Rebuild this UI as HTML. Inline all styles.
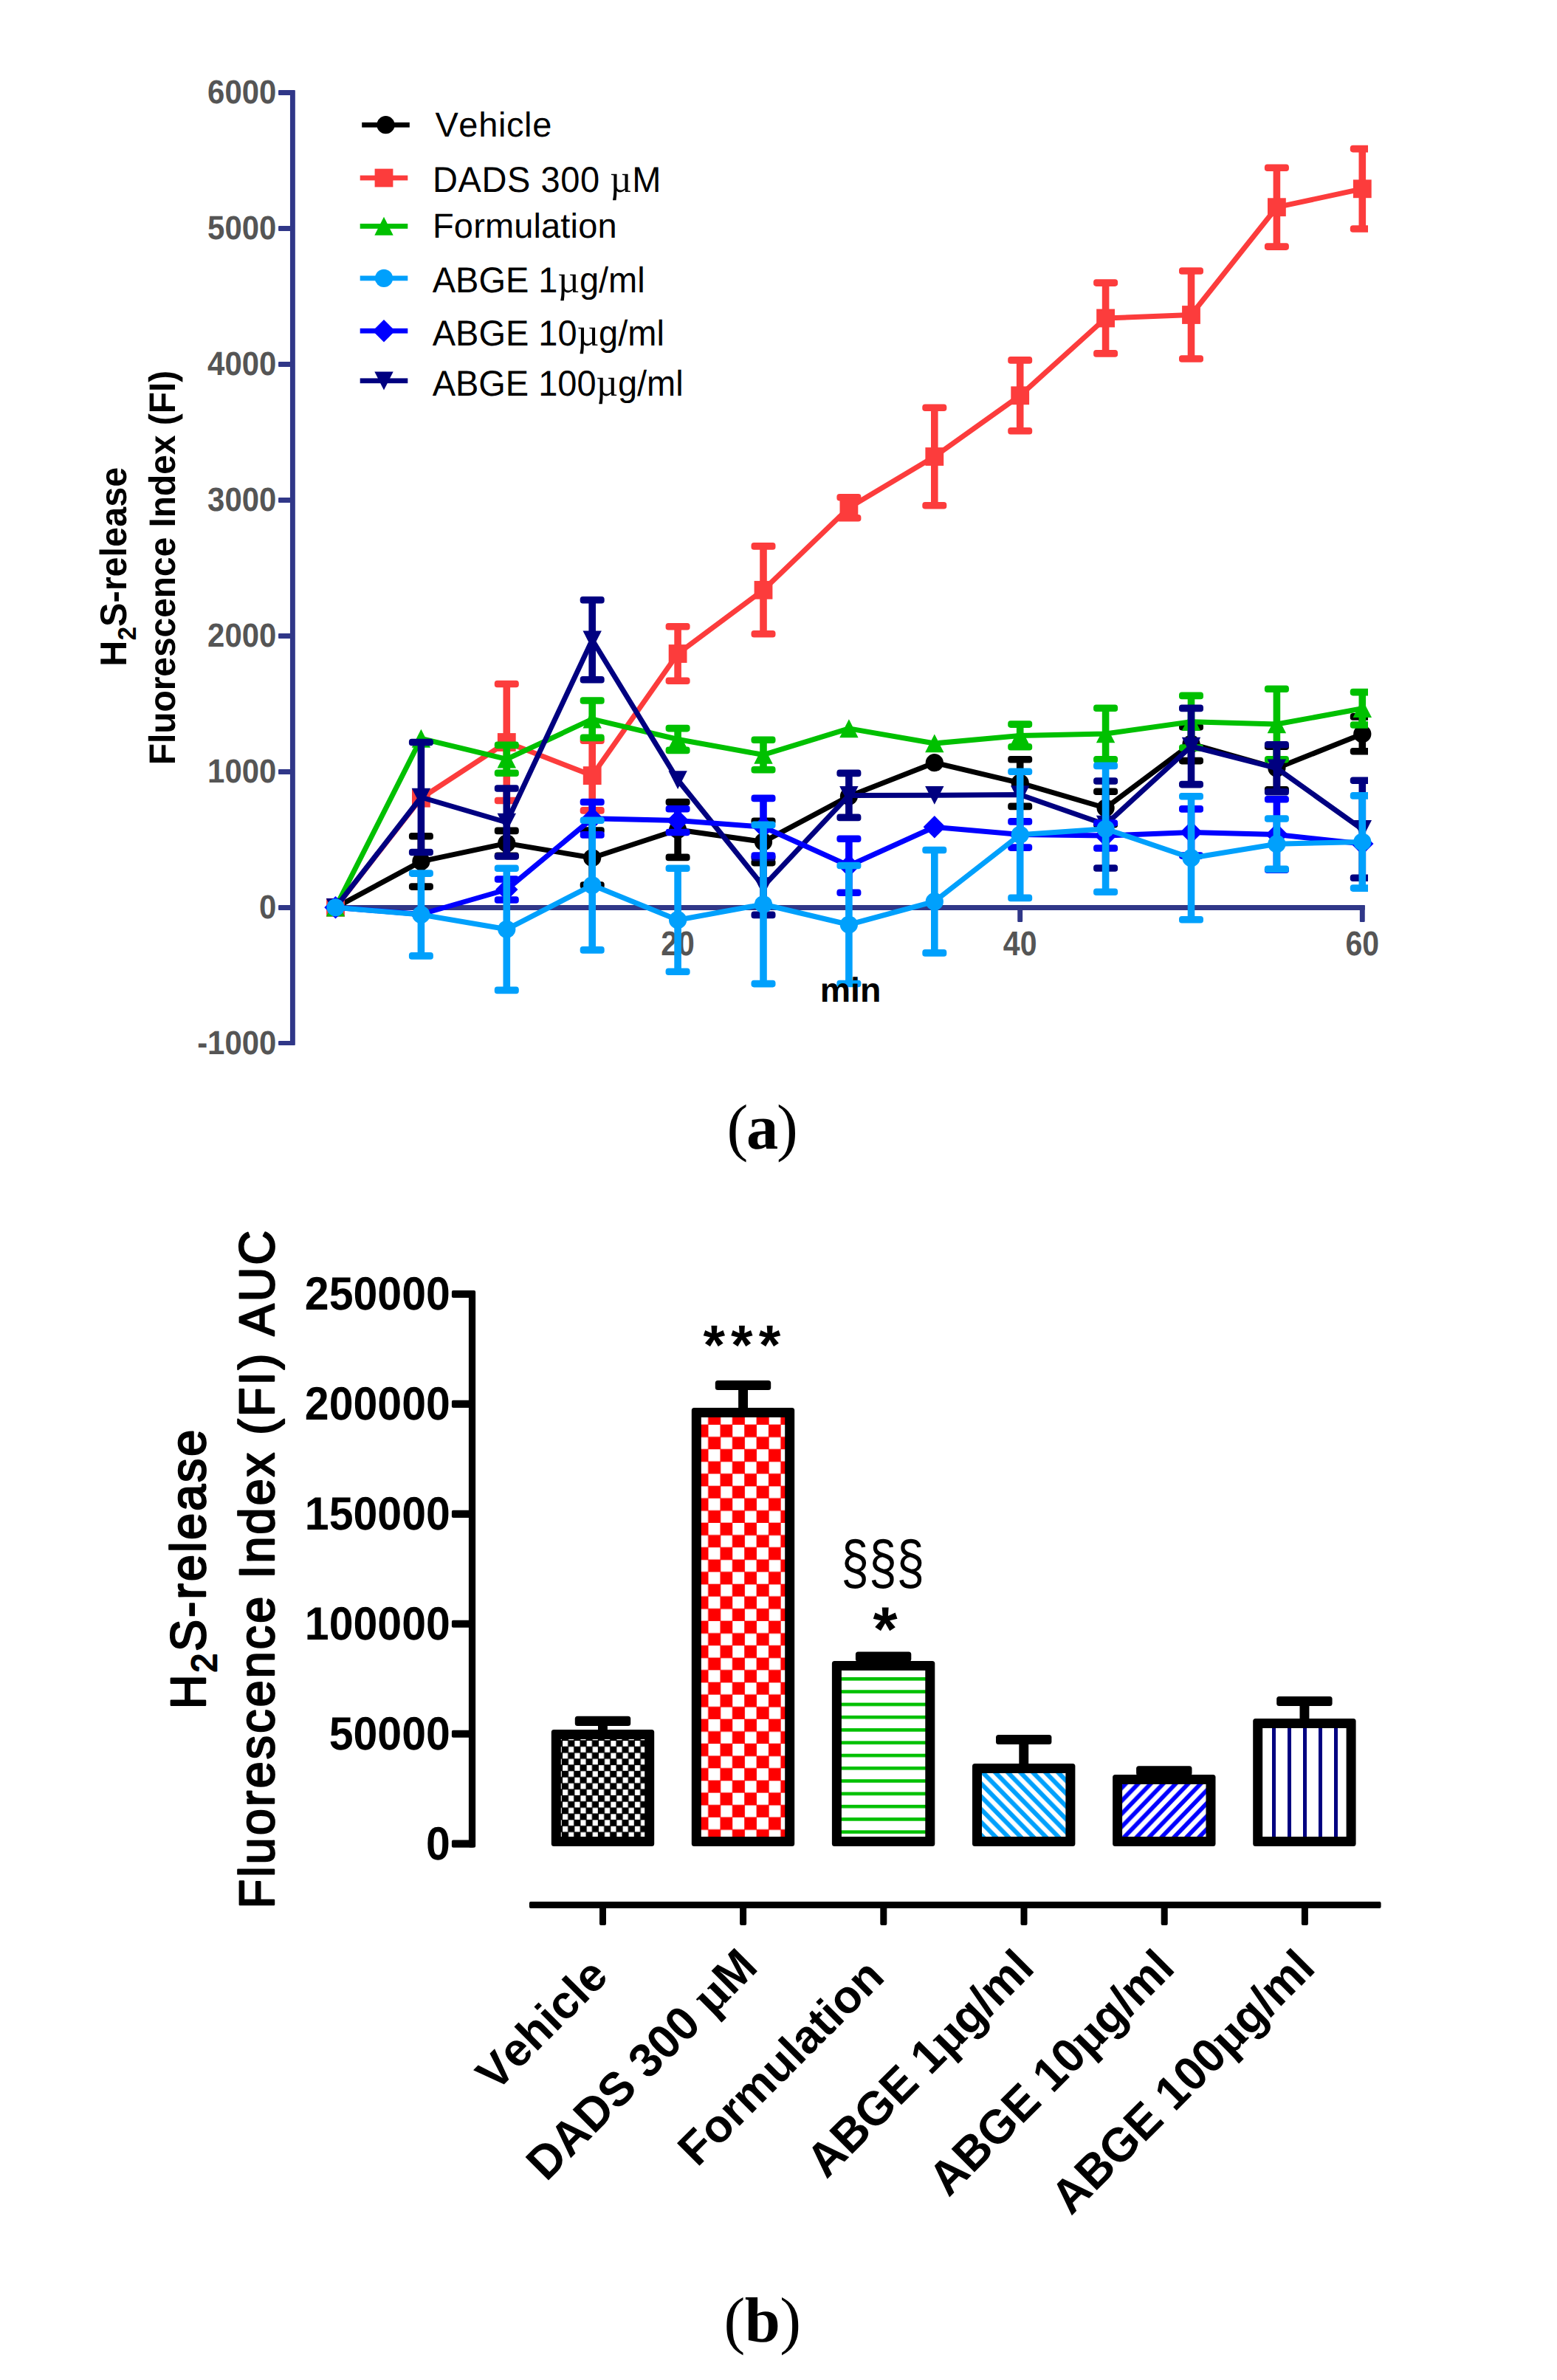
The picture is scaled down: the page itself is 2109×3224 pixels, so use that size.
<!DOCTYPE html>
<html lang="en"><head><meta charset="utf-8"><title>H2S release figure</title>
<style>html,body{margin:0;padding:0;background:#fff}svg{display:block}text{font-kerning:none;text-rendering:geometricPrecision}</style></head><body>
<svg width="2109" height="3224" viewBox="0 0 2109 3224">
<rect width="2109" height="3224" fill="#fff"/>
<g id="top-chart">
<defs><clipPath id="clipTop"><rect x="380" y="100" width="1473" height="1400"/></clipPath></defs>
<rect x="392.95" y="122.05" width="6.9" height="1293.90" rx="1" fill="#303788"/>
<rect x="377.06" y="122.05" width="20" height="6.9" rx="1" fill="#303788"/>
<rect x="377.06" y="306.05" width="20" height="6.9" rx="1" fill="#303788"/>
<rect x="377.06" y="490.05" width="20" height="6.9" rx="1" fill="#303788"/>
<rect x="377.06" y="674.05" width="20" height="6.9" rx="1" fill="#303788"/>
<rect x="377.06" y="858.05" width="20" height="6.9" rx="1" fill="#303788"/>
<rect x="377.06" y="1042.05" width="20" height="6.9" rx="1" fill="#303788"/>
<rect x="377.06" y="1226.05" width="20" height="6.9" rx="1" fill="#303788"/>
<rect x="377.06" y="1410.05" width="20" height="5.9" rx="1" fill="#303788"/>
<text transform="translate(374.3,139.6) scale(0.925,1)" font-family='"Liberation Sans", sans-serif' font-weight="700" font-size="45.3" fill="#555555" text-anchor="end">6000</text>
<text transform="translate(374.3,323.6) scale(0.925,1)" font-family='"Liberation Sans", sans-serif' font-weight="700" font-size="45.3" fill="#555555" text-anchor="end">5000</text>
<text transform="translate(374.3,507.6) scale(0.925,1)" font-family='"Liberation Sans", sans-serif' font-weight="700" font-size="45.3" fill="#555555" text-anchor="end">4000</text>
<text transform="translate(374.3,691.6) scale(0.925,1)" font-family='"Liberation Sans", sans-serif' font-weight="700" font-size="45.3" fill="#555555" text-anchor="end">3000</text>
<text transform="translate(374.3,875.6) scale(0.925,1)" font-family='"Liberation Sans", sans-serif' font-weight="700" font-size="45.3" fill="#555555" text-anchor="end">2000</text>
<text transform="translate(374.3,1059.6) scale(0.925,1)" font-family='"Liberation Sans", sans-serif' font-weight="700" font-size="45.3" fill="#555555" text-anchor="end">1000</text>
<text transform="translate(374.3,1243.6) scale(0.925,1)" font-family='"Liberation Sans", sans-serif' font-weight="700" font-size="45.3" fill="#555555" text-anchor="end">0</text>
<text transform="translate(374.3,1427.6) scale(0.925,1)" font-family='"Liberation Sans", sans-serif' font-weight="700" font-size="45.3" fill="#555555" text-anchor="end">-1000</text>
<rect x="451.50" y="1226.00" width="1397.30" height="7" rx="1" fill="#303788"/>
<rect x="914.65" y="1226.00" width="6.9" height="22.90" rx="1.2" fill="#303788"/>
<rect x="1378.25" y="1226.00" width="6.9" height="22.90" rx="1.2" fill="#303788"/>
<rect x="1841.85" y="1226.00" width="6.9" height="22.90" rx="1.2" fill="#303788"/>
<text transform="translate(918.1,1293.8) scale(0.885,1)" font-family='"Liberation Sans", sans-serif' font-weight="700" font-size="46.4" fill="#555555" text-anchor="middle">20</text>
<text transform="translate(1381.7,1293.8) scale(0.885,1)" font-family='"Liberation Sans", sans-serif' font-weight="700" font-size="46.4" fill="#555555" text-anchor="middle">40</text>
<text transform="translate(1845.3,1293.8) scale(0.885,1)" font-family='"Liberation Sans", sans-serif' font-weight="700" font-size="46.4" fill="#555555" text-anchor="middle">60</text>
<g id="s-black">
<path d="M454.5,1229.3 L570.4,1166.9 L686.3,1142.4 L802.2,1162.0 L918.1,1124.0 L1034.0,1140.4 L1149.9,1078.7 L1265.8,1033.2 L1381.7,1060.6 L1497.6,1094.5 L1613.5,1007.7 L1729.4,1040.5 L1845.3,994.3" fill="none" stroke="#000000" stroke-width="7.0" stroke-linejoin="round"/>
<g clip-path="url(#clipTop)">
<rect x="565.6" y="1132.7" width="9.6" height="68.4" fill="#000000"/>
<rect x="553.9" y="1127.9" width="33.0" height="9.6" rx="3.8" fill="#000000"/>
<rect x="553.9" y="1196.3" width="33.0" height="9.6" rx="3.8" fill="#000000"/>
<rect x="681.5" y="1125.4" width="9.6" height="34.0" fill="#000000"/>
<rect x="669.8" y="1120.6" width="33.0" height="9.6" rx="3.8" fill="#000000"/>
<rect x="669.8" y="1154.6" width="33.0" height="9.6" rx="3.8" fill="#000000"/>
<rect x="797.4" y="1125.0" width="9.6" height="74.0" fill="#000000"/>
<rect x="785.7" y="1120.2" width="33.0" height="9.6" rx="3.8" fill="#000000"/>
<rect x="785.7" y="1194.2" width="33.0" height="9.6" rx="3.8" fill="#000000"/>
<rect x="913.3" y="1086.6" width="9.6" height="74.8" fill="#000000"/>
<rect x="901.6" y="1081.8" width="33.0" height="9.6" rx="3.8" fill="#000000"/>
<rect x="901.6" y="1156.6" width="33.0" height="9.6" rx="3.8" fill="#000000"/>
<rect x="1029.2" y="1112.2" width="9.6" height="56.4" fill="#000000"/>
<rect x="1017.5" y="1107.4" width="33.0" height="9.6" rx="3.8" fill="#000000"/>
<rect x="1017.5" y="1163.8" width="33.0" height="9.6" rx="3.8" fill="#000000"/>
<rect x="1376.9" y="1028.8" width="9.6" height="63.6" fill="#000000"/>
<rect x="1365.2" y="1024.0" width="33.0" height="9.6" rx="3.8" fill="#000000"/>
<rect x="1365.2" y="1087.6" width="33.0" height="9.6" rx="3.8" fill="#000000"/>
<rect x="1492.8" y="1072.2" width="9.6" height="44.6" fill="#000000"/>
<rect x="1481.1" y="1067.4" width="33.0" height="9.6" rx="3.8" fill="#000000"/>
<rect x="1481.1" y="1112.0" width="33.0" height="9.6" rx="3.8" fill="#000000"/>
<rect x="1608.7" y="984.8" width="9.6" height="45.8" fill="#000000"/>
<rect x="1597.0" y="980.0" width="33.0" height="9.6" rx="3.8" fill="#000000"/>
<rect x="1597.0" y="1025.8" width="33.0" height="9.6" rx="3.8" fill="#000000"/>
<rect x="1724.6" y="1011.2" width="9.6" height="58.6" fill="#000000"/>
<rect x="1712.9" y="1006.4" width="33.0" height="9.6" rx="3.8" fill="#000000"/>
<rect x="1712.9" y="1065.0" width="33.0" height="9.6" rx="3.8" fill="#000000"/>
<rect x="1840.5" y="970.9" width="9.6" height="46.8" fill="#000000"/>
<rect x="1828.8" y="966.1" width="33.0" height="9.6" rx="3.8" fill="#000000"/>
<rect x="1828.8" y="1012.9" width="33.0" height="9.6" rx="3.8" fill="#000000"/>
</g>
<circle cx="454.5" cy="1229.3" r="12.1" fill="#000000"/>
<circle cx="570.4" cy="1166.9" r="12.1" fill="#000000"/>
<circle cx="686.3" cy="1142.4" r="12.1" fill="#000000"/>
<circle cx="802.2" cy="1162.0" r="12.1" fill="#000000"/>
<circle cx="918.1" cy="1124.0" r="12.1" fill="#000000"/>
<circle cx="1034.0" cy="1140.4" r="12.1" fill="#000000"/>
<circle cx="1149.9" cy="1078.7" r="12.1" fill="#000000"/>
<circle cx="1265.8" cy="1033.2" r="12.1" fill="#000000"/>
<circle cx="1381.7" cy="1060.6" r="12.1" fill="#000000"/>
<circle cx="1497.6" cy="1094.5" r="12.1" fill="#000000"/>
<circle cx="1613.5" cy="1007.7" r="12.1" fill="#000000"/>
<circle cx="1729.4" cy="1040.5" r="12.1" fill="#000000"/>
<circle cx="1845.3" cy="994.3" r="12.1" fill="#000000"/>
</g>
<g id="s-red">
<path d="M454.5,1229.3 L570.4,1081.2 L686.3,1005.5 L802.2,1050.6 L918.1,885.5 L1034.0,799.3 L1149.9,687.8 L1265.8,618.5 L1381.7,535.8 L1497.6,431.0 L1613.5,426.5 L1729.4,280.7 L1845.3,255.8" fill="none" stroke="#fc3c3c" stroke-width="7.0" stroke-linejoin="round"/>
<g clip-path="url(#clipTop)">
<rect x="681.5" y="926.5" width="9.6" height="158.0" fill="#fc3c3c"/>
<rect x="669.8" y="921.7" width="33.0" height="9.6" rx="3.8" fill="#fc3c3c"/>
<rect x="669.8" y="1079.7" width="33.0" height="9.6" rx="3.8" fill="#fc3c3c"/>
<rect x="797.4" y="1003.3" width="9.6" height="94.6" fill="#fc3c3c"/>
<rect x="785.7" y="998.5" width="33.0" height="9.6" rx="3.8" fill="#fc3c3c"/>
<rect x="785.7" y="1093.1" width="33.0" height="9.6" rx="3.8" fill="#fc3c3c"/>
<rect x="913.3" y="848.7" width="9.6" height="73.6" fill="#fc3c3c"/>
<rect x="901.6" y="843.9" width="33.0" height="9.6" rx="3.8" fill="#fc3c3c"/>
<rect x="901.6" y="917.5" width="33.0" height="9.6" rx="3.8" fill="#fc3c3c"/>
<rect x="1029.2" y="739.9" width="9.6" height="118.8" fill="#fc3c3c"/>
<rect x="1017.5" y="735.1" width="33.0" height="9.6" rx="3.8" fill="#fc3c3c"/>
<rect x="1017.5" y="853.9" width="33.0" height="9.6" rx="3.8" fill="#fc3c3c"/>
<rect x="1145.1" y="673.8" width="9.6" height="28.0" fill="#fc3c3c"/>
<rect x="1133.4" y="669.0" width="33.0" height="9.6" rx="3.8" fill="#fc3c3c"/>
<rect x="1133.4" y="697.0" width="33.0" height="9.6" rx="3.8" fill="#fc3c3c"/>
<rect x="1261.0" y="552.2" width="9.6" height="132.6" fill="#fc3c3c"/>
<rect x="1249.3" y="547.4" width="33.0" height="9.6" rx="3.8" fill="#fc3c3c"/>
<rect x="1249.3" y="680.0" width="33.0" height="9.6" rx="3.8" fill="#fc3c3c"/>
<rect x="1376.9" y="487.9" width="9.6" height="95.8" fill="#fc3c3c"/>
<rect x="1365.2" y="483.1" width="33.0" height="9.6" rx="3.8" fill="#fc3c3c"/>
<rect x="1365.2" y="578.9" width="33.0" height="9.6" rx="3.8" fill="#fc3c3c"/>
<rect x="1492.8" y="383.1" width="9.6" height="95.8" fill="#fc3c3c"/>
<rect x="1481.1" y="378.3" width="33.0" height="9.6" rx="3.8" fill="#fc3c3c"/>
<rect x="1481.1" y="474.1" width="33.0" height="9.6" rx="3.8" fill="#fc3c3c"/>
<rect x="1608.7" y="367.0" width="9.6" height="119.0" fill="#fc3c3c"/>
<rect x="1597.0" y="362.2" width="33.0" height="9.6" rx="3.8" fill="#fc3c3c"/>
<rect x="1597.0" y="481.2" width="33.0" height="9.6" rx="3.8" fill="#fc3c3c"/>
<rect x="1724.6" y="227.3" width="9.6" height="106.8" fill="#fc3c3c"/>
<rect x="1712.9" y="222.5" width="33.0" height="9.6" rx="3.8" fill="#fc3c3c"/>
<rect x="1712.9" y="329.3" width="33.0" height="9.6" rx="3.8" fill="#fc3c3c"/>
<rect x="1840.5" y="201.6" width="9.6" height="108.4" fill="#fc3c3c"/>
<rect x="1828.8" y="196.8" width="33.0" height="9.6" rx="3.8" fill="#fc3c3c"/>
<rect x="1828.8" y="305.2" width="33.0" height="9.6" rx="3.8" fill="#fc3c3c"/>
</g>
<rect x="442.1" y="1216.9" width="24.8" height="24.8" fill="#fc3c3c"/>
<rect x="558.0" y="1068.8" width="24.8" height="24.8" fill="#fc3c3c"/>
<rect x="673.9" y="993.1" width="24.8" height="24.8" fill="#fc3c3c"/>
<rect x="789.8" y="1038.2" width="24.8" height="24.8" fill="#fc3c3c"/>
<rect x="905.7" y="873.1" width="24.8" height="24.8" fill="#fc3c3c"/>
<rect x="1021.6" y="786.9" width="24.8" height="24.8" fill="#fc3c3c"/>
<rect x="1137.5" y="675.4" width="24.8" height="24.8" fill="#fc3c3c"/>
<rect x="1253.4" y="606.1" width="24.8" height="24.8" fill="#fc3c3c"/>
<rect x="1369.3" y="523.4" width="24.8" height="24.8" fill="#fc3c3c"/>
<rect x="1485.2" y="418.6" width="24.8" height="24.8" fill="#fc3c3c"/>
<rect x="1601.1" y="414.1" width="24.8" height="24.8" fill="#fc3c3c"/>
<rect x="1717.0" y="268.3" width="24.8" height="24.8" fill="#fc3c3c"/>
<rect x="1832.9" y="243.4" width="24.8" height="24.8" fill="#fc3c3c"/>
</g>
<g id="s-green">
<path d="M454.5,1229.3 L570.4,1000.4 L686.3,1028.3 L802.2,974.2 L918.1,1001.5 L1034.0,1022.5 L1149.9,986.9 L1265.8,1007.0 L1381.7,996.4 L1497.6,994.0 L1613.5,977.7 L1729.4,981.0 L1845.3,959.8" fill="none" stroke="#00c000" stroke-width="7.0" stroke-linejoin="round"/>
<g clip-path="url(#clipTop)">
<rect x="681.5" y="1009.4" width="9.6" height="37.8" fill="#00c000"/>
<rect x="669.8" y="1004.6" width="33.0" height="9.6" rx="3.8" fill="#00c000"/>
<rect x="669.8" y="1042.4" width="33.0" height="9.6" rx="3.8" fill="#00c000"/>
<rect x="797.4" y="949.0" width="9.6" height="50.4" fill="#00c000"/>
<rect x="785.7" y="944.2" width="33.0" height="9.6" rx="3.8" fill="#00c000"/>
<rect x="785.7" y="994.6" width="33.0" height="9.6" rx="3.8" fill="#00c000"/>
<rect x="913.3" y="986.6" width="9.6" height="29.8" fill="#00c000"/>
<rect x="901.6" y="981.8" width="33.0" height="9.6" rx="3.8" fill="#00c000"/>
<rect x="901.6" y="1011.6" width="33.0" height="9.6" rx="3.8" fill="#00c000"/>
<rect x="1029.2" y="1002.3" width="9.6" height="40.4" fill="#00c000"/>
<rect x="1017.5" y="997.5" width="33.0" height="9.6" rx="3.8" fill="#00c000"/>
<rect x="1017.5" y="1037.9" width="33.0" height="9.6" rx="3.8" fill="#00c000"/>
<rect x="1376.9" y="981.1" width="9.6" height="30.6" fill="#00c000"/>
<rect x="1365.2" y="976.3" width="33.0" height="9.6" rx="3.8" fill="#00c000"/>
<rect x="1365.2" y="1006.9" width="33.0" height="9.6" rx="3.8" fill="#00c000"/>
<rect x="1492.8" y="959.3" width="9.6" height="69.4" fill="#00c000"/>
<rect x="1481.1" y="954.5" width="33.0" height="9.6" rx="3.8" fill="#00c000"/>
<rect x="1481.1" y="1023.9" width="33.0" height="9.6" rx="3.8" fill="#00c000"/>
<rect x="1608.7" y="942.4" width="9.6" height="70.6" fill="#00c000"/>
<rect x="1597.0" y="937.6" width="33.0" height="9.6" rx="3.8" fill="#00c000"/>
<rect x="1597.0" y="1008.2" width="33.0" height="9.6" rx="3.8" fill="#00c000"/>
<rect x="1724.6" y="933.3" width="9.6" height="95.4" fill="#00c000"/>
<rect x="1712.9" y="928.5" width="33.0" height="9.6" rx="3.8" fill="#00c000"/>
<rect x="1712.9" y="1023.9" width="33.0" height="9.6" rx="3.8" fill="#00c000"/>
<rect x="1840.5" y="937.6" width="9.6" height="44.4" fill="#00c000"/>
<rect x="1828.8" y="932.8" width="33.0" height="9.6" rx="3.8" fill="#00c000"/>
<rect x="1828.8" y="977.2" width="33.0" height="9.6" rx="3.8" fill="#00c000"/>
</g>
<path d="M454.5,1216.7 L467.2,1241.6 L441.8,1241.6 Z" fill="#00c000"/>
<path d="M570.4,987.8 L583.1,1012.7 L557.7,1012.7 Z" fill="#00c000"/>
<path d="M686.3,1015.7 L699.0,1040.6 L673.6,1040.6 Z" fill="#00c000"/>
<path d="M802.2,961.6 L814.9,986.5 L789.5,986.5 Z" fill="#00c000"/>
<path d="M918.1,988.9 L930.8,1013.8 L905.4,1013.8 Z" fill="#00c000"/>
<path d="M1034.0,1009.9 L1046.7,1034.8 L1021.3,1034.8 Z" fill="#00c000"/>
<path d="M1149.9,974.3 L1162.6,999.2 L1137.2,999.2 Z" fill="#00c000"/>
<path d="M1265.8,994.4 L1278.5,1019.3 L1253.1,1019.3 Z" fill="#00c000"/>
<path d="M1381.7,983.8 L1394.4,1008.7 L1369.0,1008.7 Z" fill="#00c000"/>
<path d="M1497.6,981.4 L1510.3,1006.3 L1484.9,1006.3 Z" fill="#00c000"/>
<path d="M1613.5,965.1 L1626.2,990.0 L1600.8,990.0 Z" fill="#00c000"/>
<path d="M1729.4,968.4 L1742.1,993.3 L1716.7,993.3 Z" fill="#00c000"/>
<path d="M1845.3,947.2 L1858.0,972.1 L1832.6,972.1 Z" fill="#00c000"/>
</g>
<g id="s-navy">
<path d="M454.5,1229.3 L570.4,1080.0 L686.3,1114.0 L802.2,866.8 L918.1,1056.5 L1034.0,1200.6 L1149.9,1077.4 L1265.8,1077.2 L1381.7,1076.5 L1497.6,1117.0 L1613.5,1011.0 L1729.4,1040.7 L1845.3,1123.3" fill="none" stroke="#000080" stroke-width="7.0" stroke-linejoin="round"/>
<g clip-path="url(#clipTop)">
<rect x="565.6" y="1005.5" width="9.6" height="149.0" fill="#000080"/>
<rect x="553.9" y="1000.7" width="33.0" height="9.6" rx="3.8" fill="#000080"/>
<rect x="553.9" y="1149.7" width="33.0" height="9.6" rx="3.8" fill="#000080"/>
<rect x="681.5" y="1068.0" width="9.6" height="92.0" fill="#000080"/>
<rect x="669.8" y="1063.2" width="33.0" height="9.6" rx="3.8" fill="#000080"/>
<rect x="669.8" y="1155.2" width="33.0" height="9.6" rx="3.8" fill="#000080"/>
<rect x="797.4" y="812.8" width="9.6" height="108.0" fill="#000080"/>
<rect x="785.7" y="808.0" width="33.0" height="9.6" rx="3.8" fill="#000080"/>
<rect x="785.7" y="916.0" width="33.0" height="9.6" rx="3.8" fill="#000080"/>
<rect x="1029.2" y="1161.8" width="9.6" height="77.6" fill="#000080"/>
<rect x="1017.5" y="1157.0" width="33.0" height="9.6" rx="3.8" fill="#000080"/>
<rect x="1017.5" y="1234.6" width="33.0" height="9.6" rx="3.8" fill="#000080"/>
<rect x="1145.1" y="1047.4" width="9.6" height="60.0" fill="#000080"/>
<rect x="1133.4" y="1042.6" width="33.0" height="9.6" rx="3.8" fill="#000080"/>
<rect x="1133.4" y="1102.6" width="33.0" height="9.6" rx="3.8" fill="#000080"/>
<rect x="1492.8" y="1058.0" width="9.6" height="118.0" fill="#000080"/>
<rect x="1481.1" y="1053.2" width="33.0" height="9.6" rx="3.8" fill="#000080"/>
<rect x="1481.1" y="1171.2" width="33.0" height="9.6" rx="3.8" fill="#000080"/>
<rect x="1608.7" y="959.4" width="9.6" height="103.2" fill="#000080"/>
<rect x="1597.0" y="954.6" width="33.0" height="9.6" rx="3.8" fill="#000080"/>
<rect x="1597.0" y="1057.8" width="33.0" height="9.6" rx="3.8" fill="#000080"/>
<rect x="1724.6" y="1008.7" width="9.6" height="64.0" fill="#000080"/>
<rect x="1712.9" y="1003.9" width="33.0" height="9.6" rx="3.8" fill="#000080"/>
<rect x="1712.9" y="1067.9" width="33.0" height="9.6" rx="3.8" fill="#000080"/>
<rect x="1840.5" y="1057.3" width="9.6" height="132.0" fill="#000080"/>
<rect x="1828.8" y="1052.5" width="33.0" height="9.6" rx="3.8" fill="#000080"/>
<rect x="1828.8" y="1184.5" width="33.0" height="9.6" rx="3.8" fill="#000080"/>
</g>
<path d="M454.5,1241.9 L467.2,1217.0 L441.8,1217.0 Z" fill="#000080"/>
<path d="M570.4,1092.6 L583.1,1067.7 L557.7,1067.7 Z" fill="#000080"/>
<path d="M686.3,1126.6 L699.0,1101.7 L673.6,1101.7 Z" fill="#000080"/>
<path d="M802.2,879.4 L814.9,854.5 L789.5,854.5 Z" fill="#000080"/>
<path d="M918.1,1069.1 L930.8,1044.2 L905.4,1044.2 Z" fill="#000080"/>
<path d="M1034.0,1213.2 L1046.7,1188.3 L1021.3,1188.3 Z" fill="#000080"/>
<path d="M1149.9,1090.0 L1162.6,1065.1 L1137.2,1065.1 Z" fill="#000080"/>
<path d="M1265.8,1089.8 L1278.5,1064.9 L1253.1,1064.9 Z" fill="#000080"/>
<path d="M1381.7,1089.1 L1394.4,1064.2 L1369.0,1064.2 Z" fill="#000080"/>
<path d="M1497.6,1129.6 L1510.3,1104.7 L1484.9,1104.7 Z" fill="#000080"/>
<path d="M1613.5,1023.6 L1626.2,998.7 L1600.8,998.7 Z" fill="#000080"/>
<path d="M1729.4,1053.3 L1742.1,1028.4 L1716.7,1028.4 Z" fill="#000080"/>
<path d="M1845.3,1135.9 L1858.0,1111.0 L1832.6,1111.0 Z" fill="#000080"/>
</g>
<g id="s-blue">
<path d="M454.5,1229.3 L570.4,1238.5 L686.3,1205.0 L802.2,1108.7 L918.1,1111.6 L1034.0,1120.2 L1149.9,1172.8 L1265.8,1120.3 L1381.7,1130.5 L1497.6,1132.0 L1613.5,1127.5 L1729.4,1130.5 L1845.3,1143.0" fill="none" stroke="#0000ff" stroke-width="7.0" stroke-linejoin="round"/>
<g clip-path="url(#clipTop)">
<rect x="681.5" y="1191.0" width="9.6" height="28.0" fill="#0000ff"/>
<rect x="669.8" y="1186.2" width="33.0" height="9.6" rx="3.8" fill="#0000ff"/>
<rect x="669.8" y="1214.2" width="33.0" height="9.6" rx="3.8" fill="#0000ff"/>
<rect x="797.4" y="1086.5" width="9.6" height="44.4" fill="#0000ff"/>
<rect x="785.7" y="1081.7" width="33.0" height="9.6" rx="3.8" fill="#0000ff"/>
<rect x="785.7" y="1126.1" width="33.0" height="9.6" rx="3.8" fill="#0000ff"/>
<rect x="913.3" y="1095.7" width="9.6" height="31.8" fill="#0000ff"/>
<rect x="901.6" y="1090.9" width="33.0" height="9.6" rx="3.8" fill="#0000ff"/>
<rect x="901.6" y="1122.7" width="33.0" height="9.6" rx="3.8" fill="#0000ff"/>
<rect x="1029.2" y="1081.4" width="9.6" height="77.6" fill="#0000ff"/>
<rect x="1017.5" y="1076.6" width="33.0" height="9.6" rx="3.8" fill="#0000ff"/>
<rect x="1017.5" y="1154.2" width="33.0" height="9.6" rx="3.8" fill="#0000ff"/>
<rect x="1145.1" y="1136.3" width="9.6" height="73.0" fill="#0000ff"/>
<rect x="1133.4" y="1131.5" width="33.0" height="9.6" rx="3.8" fill="#0000ff"/>
<rect x="1133.4" y="1204.5" width="33.0" height="9.6" rx="3.8" fill="#0000ff"/>
<rect x="1376.9" y="1112.9" width="9.6" height="35.2" fill="#0000ff"/>
<rect x="1365.2" y="1108.1" width="33.0" height="9.6" rx="3.8" fill="#0000ff"/>
<rect x="1365.2" y="1143.3" width="33.0" height="9.6" rx="3.8" fill="#0000ff"/>
<rect x="1492.8" y="1115.0" width="9.6" height="34.0" fill="#0000ff"/>
<rect x="1481.1" y="1110.2" width="33.0" height="9.6" rx="3.8" fill="#0000ff"/>
<rect x="1481.1" y="1144.2" width="33.0" height="9.6" rx="3.8" fill="#0000ff"/>
<rect x="1608.7" y="1095.9" width="9.6" height="63.2" fill="#0000ff"/>
<rect x="1597.0" y="1091.1" width="33.0" height="9.6" rx="3.8" fill="#0000ff"/>
<rect x="1597.0" y="1154.3" width="33.0" height="9.6" rx="3.8" fill="#0000ff"/>
<rect x="1724.6" y="1082.8" width="9.6" height="95.4" fill="#0000ff"/>
<rect x="1712.9" y="1078.0" width="33.0" height="9.6" rx="3.8" fill="#0000ff"/>
<rect x="1712.9" y="1173.4" width="33.0" height="9.6" rx="3.8" fill="#0000ff"/>
</g>
<path d="M454.5,1214.1 L469.7,1229.3 L454.5,1244.5 L439.3,1229.3 Z" fill="#0000ff"/>
<path d="M570.4,1223.3 L585.6,1238.5 L570.4,1253.7 L555.2,1238.5 Z" fill="#0000ff"/>
<path d="M686.3,1189.8 L701.5,1205.0 L686.3,1220.2 L671.1,1205.0 Z" fill="#0000ff"/>
<path d="M802.2,1093.5 L817.4,1108.7 L802.2,1123.9 L787.0,1108.7 Z" fill="#0000ff"/>
<path d="M918.1,1096.4 L933.3,1111.6 L918.1,1126.8 L902.9,1111.6 Z" fill="#0000ff"/>
<path d="M1034.0,1105.0 L1049.2,1120.2 L1034.0,1135.4 L1018.8,1120.2 Z" fill="#0000ff"/>
<path d="M1149.9,1157.6 L1165.1,1172.8 L1149.9,1188.0 L1134.7,1172.8 Z" fill="#0000ff"/>
<path d="M1265.8,1105.1 L1281.0,1120.3 L1265.8,1135.5 L1250.6,1120.3 Z" fill="#0000ff"/>
<path d="M1381.7,1115.3 L1396.9,1130.5 L1381.7,1145.7 L1366.5,1130.5 Z" fill="#0000ff"/>
<path d="M1497.6,1116.8 L1512.8,1132.0 L1497.6,1147.2 L1482.4,1132.0 Z" fill="#0000ff"/>
<path d="M1613.5,1112.3 L1628.7,1127.5 L1613.5,1142.7 L1598.3,1127.5 Z" fill="#0000ff"/>
<path d="M1729.4,1115.3 L1744.6,1130.5 L1729.4,1145.7 L1714.2,1130.5 Z" fill="#0000ff"/>
<path d="M1845.3,1127.8 L1860.5,1143.0 L1845.3,1158.2 L1830.1,1143.0 Z" fill="#0000ff"/>
</g>
<g id="s-lblue">
<path d="M454.5,1229.3 L570.4,1239.0 L686.3,1258.8 L802.2,1199.1 L918.1,1246.2 L1034.0,1225.0 L1149.9,1252.5 L1265.8,1221.2 L1381.7,1130.8 L1497.6,1122.8 L1613.5,1162.2 L1729.4,1143.2 L1845.3,1140.5" fill="none" stroke="#00a0fc" stroke-width="7.0" stroke-linejoin="round"/>
<g clip-path="url(#clipTop)">
<rect x="565.6" y="1183.1" width="9.6" height="111.8" fill="#00a0fc"/>
<rect x="553.9" y="1178.3" width="33.0" height="9.6" rx="3.8" fill="#00a0fc"/>
<rect x="553.9" y="1290.1" width="33.0" height="9.6" rx="3.8" fill="#00a0fc"/>
<rect x="681.5" y="1176.2" width="9.6" height="165.2" fill="#00a0fc"/>
<rect x="669.8" y="1171.4" width="33.0" height="9.6" rx="3.8" fill="#00a0fc"/>
<rect x="669.8" y="1336.6" width="33.0" height="9.6" rx="3.8" fill="#00a0fc"/>
<rect x="797.4" y="1111.3" width="9.6" height="175.6" fill="#00a0fc"/>
<rect x="785.7" y="1106.5" width="33.0" height="9.6" rx="3.8" fill="#00a0fc"/>
<rect x="785.7" y="1282.1" width="33.0" height="9.6" rx="3.8" fill="#00a0fc"/>
<rect x="913.3" y="1176.2" width="9.6" height="140.0" fill="#00a0fc"/>
<rect x="901.6" y="1171.4" width="33.0" height="9.6" rx="3.8" fill="#00a0fc"/>
<rect x="901.6" y="1311.4" width="33.0" height="9.6" rx="3.8" fill="#00a0fc"/>
<rect x="1029.2" y="1117.4" width="9.6" height="215.2" fill="#00a0fc"/>
<rect x="1017.5" y="1112.6" width="33.0" height="9.6" rx="3.8" fill="#00a0fc"/>
<rect x="1017.5" y="1327.8" width="33.0" height="9.6" rx="3.8" fill="#00a0fc"/>
<rect x="1145.1" y="1172.5" width="9.6" height="160.0" fill="#00a0fc"/>
<rect x="1133.4" y="1167.7" width="33.0" height="9.6" rx="3.8" fill="#00a0fc"/>
<rect x="1133.4" y="1327.7" width="33.0" height="9.6" rx="3.8" fill="#00a0fc"/>
<rect x="1261.0" y="1151.5" width="9.6" height="139.4" fill="#00a0fc"/>
<rect x="1249.3" y="1146.7" width="33.0" height="9.6" rx="3.8" fill="#00a0fc"/>
<rect x="1249.3" y="1286.1" width="33.0" height="9.6" rx="3.8" fill="#00a0fc"/>
<rect x="1376.9" y="1045.2" width="9.6" height="171.2" fill="#00a0fc"/>
<rect x="1365.2" y="1040.4" width="33.0" height="9.6" rx="3.8" fill="#00a0fc"/>
<rect x="1365.2" y="1211.6" width="33.0" height="9.6" rx="3.8" fill="#00a0fc"/>
<rect x="1492.8" y="1037.4" width="9.6" height="170.8" fill="#00a0fc"/>
<rect x="1481.1" y="1032.6" width="33.0" height="9.6" rx="3.8" fill="#00a0fc"/>
<rect x="1481.1" y="1203.4" width="33.0" height="9.6" rx="3.8" fill="#00a0fc"/>
<rect x="1608.7" y="1078.7" width="9.6" height="167.0" fill="#00a0fc"/>
<rect x="1597.0" y="1073.9" width="33.0" height="9.6" rx="3.8" fill="#00a0fc"/>
<rect x="1597.0" y="1240.9" width="33.0" height="9.6" rx="3.8" fill="#00a0fc"/>
<rect x="1724.6" y="1109.0" width="9.6" height="68.4" fill="#00a0fc"/>
<rect x="1712.9" y="1104.2" width="33.0" height="9.6" rx="3.8" fill="#00a0fc"/>
<rect x="1712.9" y="1172.6" width="33.0" height="9.6" rx="3.8" fill="#00a0fc"/>
<rect x="1840.5" y="1077.9" width="9.6" height="125.2" fill="#00a0fc"/>
<rect x="1828.8" y="1073.1" width="33.0" height="9.6" rx="3.8" fill="#00a0fc"/>
<rect x="1828.8" y="1198.3" width="33.0" height="9.6" rx="3.8" fill="#00a0fc"/>
</g>
<circle cx="454.5" cy="1229.3" r="12.1" fill="#00a0fc"/>
<circle cx="570.4" cy="1239.0" r="12.1" fill="#00a0fc"/>
<circle cx="686.3" cy="1258.8" r="12.1" fill="#00a0fc"/>
<circle cx="802.2" cy="1199.1" r="12.1" fill="#00a0fc"/>
<circle cx="918.1" cy="1246.2" r="12.1" fill="#00a0fc"/>
<circle cx="1034.0" cy="1225.0" r="12.1" fill="#00a0fc"/>
<circle cx="1149.9" cy="1252.5" r="12.1" fill="#00a0fc"/>
<circle cx="1265.8" cy="1221.2" r="12.1" fill="#00a0fc"/>
<circle cx="1381.7" cy="1130.8" r="12.1" fill="#00a0fc"/>
<circle cx="1497.6" cy="1122.8" r="12.1" fill="#00a0fc"/>
<circle cx="1613.5" cy="1162.2" r="12.1" fill="#00a0fc"/>
<circle cx="1729.4" cy="1143.2" r="12.1" fill="#00a0fc"/>
<circle cx="1845.3" cy="1140.5" r="12.1" fill="#00a0fc"/>
</g>
<text x="1152" y="1357.3" font-family='"Liberation Sans", sans-serif' font-weight="700" font-size="46.5" fill="#000" text-anchor="middle">min</text>
<text transform="translate(170.9,767.7) rotate(-90) scale(1.013,1.05)" font-family='"Liberation Sans", sans-serif' font-weight="700" font-size="48" fill="#000" text-anchor="middle">H<tspan font-size="33" dy="12">2</tspan><tspan dy="-12">S-release</tspan></text>
<text transform="translate(236.7,769) rotate(-90) scale(1.0055,1.05)" font-family='"Liberation Sans", sans-serif' font-weight="700" font-size="47.6" fill="#000" text-anchor="middle">Fluorescence Index (FI)</text>
<rect x="490.2" y="165.8" width="64.6" height="6.8" fill="#000000"/>
<circle cx="522.5" cy="169.2" r="12.1" fill="#000000"/>
<text transform="translate(589.4,185.2) scale(1,1.0)" font-family='"Liberation Sans", sans-serif' font-size="47" letter-spacing="0.62" fill="#000">Vehicle</text>
<rect x="487.7" y="237.6" width="64.6" height="6.8" fill="#fc3c3c"/>
<rect x="507.6" y="228.6" width="24.8" height="24.8" fill="#fc3c3c"/>
<text transform="translate(586.0,260.3) scale(1,1.035)" font-family='"Liberation Sans", sans-serif' font-size="47" letter-spacing="0.58" fill="#000">DADS 300 <tspan font-family='"Liberation Serif", serif' font-size="51">µ</tspan>M</text>
<rect x="487.7" y="303.0" width="64.6" height="6.8" fill="#00c000"/>
<path d="M520.0,293.8 L532.7,318.7 L507.3,318.7 Z" fill="#00c000"/>
<text transform="translate(586.0,322.3) scale(1,1.0)" font-family='"Liberation Sans", sans-serif' font-size="47" letter-spacing="0.14" fill="#000">Formulation</text>
<rect x="487.7" y="373.5" width="64.6" height="6.8" fill="#00a0fc"/>
<circle cx="520.0" cy="376.9" r="12.1" fill="#00a0fc"/>
<text transform="translate(585.7,396.2) scale(1,1.035)" font-family='"Liberation Sans", sans-serif' font-size="47" letter-spacing="0.0" fill="#000">ABGE 1<tspan font-family='"Liberation Serif", serif' font-size="51">µ</tspan>g/ml</text>
<rect x="487.7" y="444.8" width="64.6" height="6.8" fill="#0000ff"/>
<path d="M520.0,433.0 L535.2,448.2 L520.0,463.4 L504.8,448.2 Z" fill="#0000ff"/>
<text transform="translate(585.7,467.5) scale(1,1.035)" font-family='"Liberation Sans", sans-serif' font-size="47" letter-spacing="0.0" fill="#000">ABGE 10<tspan font-family='"Liberation Serif", serif' font-size="51">µ</tspan>g/ml</text>
<rect x="487.7" y="512.4" width="64.6" height="6.8" fill="#000080"/>
<path d="M520.0,528.4 L532.7,503.5 L507.3,503.5 Z" fill="#000080"/>
<text transform="translate(585.7,535.9) scale(1,1.035)" font-family='"Liberation Sans", sans-serif' font-size="47" letter-spacing="-0.03" fill="#000">ABGE 100<tspan font-family='"Liberation Serif", serif' font-size="51">µ</tspan>g/ml</text>
</g>
<g id="bottom-chart">
<defs>
<pattern id="p1" patternUnits="userSpaceOnUse" x="762.0" y="2358.0" width="16.31" height="16.54"><rect width="16.31" height="16.54" fill="#000"/><rect x="0.1" y="0.1" width="7.1" height="7.6" fill="#fff"/><rect x="8.1" y="8.15" width="7.1" height="7.7" fill="#fff"/></pattern>
<pattern id="p2" patternUnits="userSpaceOnUse" x="959.5" y="1930.0" width="32.72" height="33.24"><rect width="32.72" height="33.24" fill="#fff"/><rect x="16.009999999999998" y="-0.35" width="17.06" height="17.32" fill="#fe0000"/><rect x="-0.35" y="16.27" width="17.06" height="17.32" fill="#fe0000"/><rect x="32.37" y="16.27" width="0.35" height="17.32" fill="#fe0000"/><rect x="16.009999999999998" y="32.89" width="17.06" height="0.35" fill="#fe0000"/></pattern>
<pattern id="p3" patternUnits="userSpaceOnUse" x="0" y="2272.0" width="20" height="17.28"><rect width="20" height="17.28" fill="#fff"/><rect width="20" height="4.6" fill="#00c000"/></pattern>
<pattern id="p4" patternUnits="userSpaceOnUse" x="1349.07" y="2401.92" width="17.02" height="17.4"><rect width="17.02" height="17.4" fill="#fff"/><path d="M-17.02,-17.4 L34.04,34.8 M0,-17.4 L34.04,17.4 M-17.02,0 L17.02,34.8" stroke="#00a0fc" stroke-width="6.05"/></pattern>
<pattern id="p5" patternUnits="userSpaceOnUse" x="1524.39" y="2416.7" width="16.92" height="17.57"><rect width="16.92" height="17.57" fill="#fff"/><path d="M-16.92,35.14 L33.84,-17.57 M-16.92,17.57 L16.92,-17.57 M0,35.14 L33.84,0" stroke="#0000ff" stroke-width="5.75"/></pattern>
<pattern id="p6" patternUnits="userSpaceOnUse" x="1723.0" y="0" width="21.0" height="20"><rect width="21.0" height="20" fill="#fff"/><rect width="5.0" height="20" fill="#000080"/></pattern>
</defs>
<rect x="634.9" y="1747.95" width="9.25" height="754.70" rx="2" fill="#000"/>
<rect x="611.9" y="1747.95" width="30" height="10.1" rx="2" fill="#000"/>
<rect x="611.9" y="1896.87" width="30" height="10.1" rx="2" fill="#000"/>
<rect x="611.9" y="2045.79" width="30" height="10.1" rx="2" fill="#000"/>
<rect x="611.9" y="2194.71" width="30" height="10.1" rx="2" fill="#000"/>
<rect x="611.9" y="2343.63" width="30" height="10.1" rx="2" fill="#000"/>
<rect x="611.9" y="2492.55" width="30" height="10.1" rx="2" fill="#000"/>
<text transform="translate(609.9,1774.3) scale(0.933,1)" font-family='"Liberation Sans", sans-serif' font-weight="700" font-size="63.3" fill="#000" text-anchor="end">250000</text>
<text transform="translate(609.9,1923.2) scale(0.933,1)" font-family='"Liberation Sans", sans-serif' font-weight="700" font-size="63.3" fill="#000" text-anchor="end">200000</text>
<text transform="translate(609.9,2072.1) scale(0.933,1)" font-family='"Liberation Sans", sans-serif' font-weight="700" font-size="63.3" fill="#000" text-anchor="end">150000</text>
<text transform="translate(609.9,2221.1) scale(0.933,1)" font-family='"Liberation Sans", sans-serif' font-weight="700" font-size="63.3" fill="#000" text-anchor="end">100000</text>
<text transform="translate(609.9,2370.0) scale(0.933,1)" font-family='"Liberation Sans", sans-serif' font-weight="700" font-size="63.3" fill="#000" text-anchor="end">50000</text>
<text transform="translate(609.9,2518.9) scale(0.933,1)" font-family='"Liberation Sans", sans-serif' font-weight="700" font-size="63.3" fill="#000" text-anchor="end">0</text>
<rect x="716.9" y="2576.0" width="1153.7" height="9.0" rx="2" fill="#000"/>
<rect x="812.0" y="2578" width="9" height="29.9" rx="2" fill="#000"/>
<rect x="1002.1" y="2578" width="9" height="29.9" rx="2" fill="#000"/>
<rect x="1192.3" y="2578" width="9" height="29.9" rx="2" fill="#000"/>
<rect x="1382.5" y="2578" width="9" height="29.9" rx="2" fill="#000"/>
<rect x="1572.7" y="2578" width="9" height="29.9" rx="2" fill="#000"/>
<rect x="1762.9" y="2578" width="9" height="29.9" rx="2" fill="#000"/>
<rect x="810.0" y="2331.3" width="12.9" height="15.7" fill="#000"/>
<rect x="778.8" y="2324.8" width="75.4" height="13.1" rx="3.5" fill="#000"/>
<rect x="746.8" y="2343.0" width="139.4" height="158.0" rx="3.5" fill="#000"/>
<rect x="759.8" y="2356.0" width="113.4" height="132.0" fill="url(#p1)"/>
<rect x="1000.1" y="1876.5" width="12.9" height="34.5" fill="#000"/>
<rect x="968.8" y="1870.0" width="75.4" height="13.1" rx="3.5" fill="#000"/>
<rect x="936.8" y="1907.0" width="139.4" height="594.0" rx="3.5" fill="#000"/>
<rect x="949.8" y="1920.0" width="113.4" height="568.0" fill="url(#p2)"/>
<rect x="1190.2" y="2244.2" width="12.9" height="9.7" fill="#000"/>
<rect x="1158.9" y="2237.6" width="75.4" height="13.1" rx="3.5" fill="#000"/>
<rect x="1126.9" y="2249.9" width="139.4" height="251.1" rx="3.5" fill="#000"/>
<rect x="1139.9" y="2262.9" width="113.4" height="225.1" fill="url(#p3)"/>
<rect x="1380.3" y="2356.5" width="12.9" height="36.5" fill="#000"/>
<rect x="1349.0" y="2349.9" width="75.4" height="13.1" rx="3.5" fill="#000"/>
<rect x="1317.0" y="2389.0" width="139.4" height="112.0" rx="3.5" fill="#000"/>
<rect x="1330.0" y="2402.0" width="113.4" height="86.0" fill="url(#p4)"/>
<rect x="1570.4" y="2398.9" width="12.9" height="9.1" fill="#000"/>
<rect x="1539.1" y="2392.3" width="75.4" height="13.1" rx="3.5" fill="#000"/>
<rect x="1507.1" y="2404.0" width="139.4" height="97.0" rx="3.5" fill="#000"/>
<rect x="1520.1" y="2417.0" width="113.4" height="71.0" fill="url(#p5)"/>
<rect x="1760.5" y="2304.6" width="12.9" height="27.4" fill="#000"/>
<rect x="1729.2" y="2298.0" width="75.4" height="13.1" rx="3.5" fill="#000"/>
<rect x="1697.2" y="2328.0" width="139.4" height="173.0" rx="3.5" fill="#000"/>
<rect x="1710.2" y="2341.0" width="113.4" height="147.0" fill="url(#p6)"/>
<text x="967.3 1004.9 1042.6" y="1848.4" font-family='"Liberation Sans", sans-serif' font-weight="700" font-size="76" fill="#000" text-anchor="middle">***</text>
<text transform="translate(1195.7,2144.5) scale(0.815,1)" font-family='"Liberation Sans", sans-serif' font-size="83" fill="#000" text-anchor="middle">§§§</text>
<text x="1199" y="2236.2" font-family='"Liberation Sans", sans-serif' font-weight="700" font-size="85" fill="#000" text-anchor="middle">*</text>
<text transform="translate(277.8,2124.5) rotate(-90) scale(1,1.04)" font-family='"Liberation Sans", sans-serif' font-size="64.5" letter-spacing="3.0" fill="#000" stroke="#000" stroke-width="2.4" stroke-linejoin="round" text-anchor="middle">H<tspan font-size="46" dy="15">2</tspan><tspan dy="-15">S-release</tspan></text>
<text transform="translate(371.1,2124.5) rotate(-90) scale(1,1.04)" font-family='"Liberation Sans", sans-serif' font-size="64.5" letter-spacing="3.2" fill="#000" stroke="#000" stroke-width="2.4" stroke-linejoin="round" text-anchor="middle">Fluorescence Index (FI) AUC</text>
<text transform="translate(826.5,2679.7) rotate(-45) scale(1,1.0)" font-family='"Liberation Sans", sans-serif' font-weight="700" font-size="62.7" fill="#000" text-anchor="end">Vehicle</text>
<text transform="translate(1029.0,2667.4) rotate(-45) scale(1,1.03)" font-family='"Liberation Sans", sans-serif' font-weight="700" font-size="62.7" fill="#000" text-anchor="end">DADS 300 <tspan font-family='"Liberation Serif", serif' font-size="67.5" dx="0.5">µ</tspan>M</text>
<text transform="translate(1200.7,2680.7) rotate(-45) scale(1,1.0)" font-family='"Liberation Sans", sans-serif' font-weight="700" font-size="62.7" fill="#000" text-anchor="end">Formulation</text>
<text transform="translate(1403.6,2668.8) rotate(-45) scale(1,1.03)" font-family='"Liberation Sans", sans-serif' font-weight="700" font-size="62.7" fill="#000" text-anchor="end">ABGE 1<tspan font-family='"Liberation Serif", serif' font-size="67.5" dx="0.5">µ</tspan>g/ml</text>
<text transform="translate(1593.7,2668.8) rotate(-45) scale(1,1.03)" font-family='"Liberation Sans", sans-serif' font-weight="700" font-size="62.7" fill="#000" text-anchor="end">ABGE 10<tspan font-family='"Liberation Serif", serif' font-size="67.5" dx="0.5">µ</tspan>g/ml</text>
<text transform="translate(1784.0,2668.8) rotate(-45) scale(1,1.03)" font-family='"Liberation Sans", sans-serif' font-weight="700" font-size="62.7" fill="#000" text-anchor="end">ABGE 100<tspan font-family='"Liberation Serif", serif' font-size="67.5" dx="0.5">µ</tspan>g/ml</text>
</g>
<text x="1031.6" y="1555.9" font-family='"Liberation Serif", serif' font-size="86.5" letter-spacing="-2.3" fill="#000" text-anchor="middle">(<tspan font-weight="700">a</tspan>)</text>
<text x="1032.6" y="3172.0" font-family='"Liberation Serif", serif' font-size="86.5" letter-spacing="-0.6" fill="#000" text-anchor="middle">(<tspan font-weight="700">b</tspan>)</text>
</svg></body></html>
